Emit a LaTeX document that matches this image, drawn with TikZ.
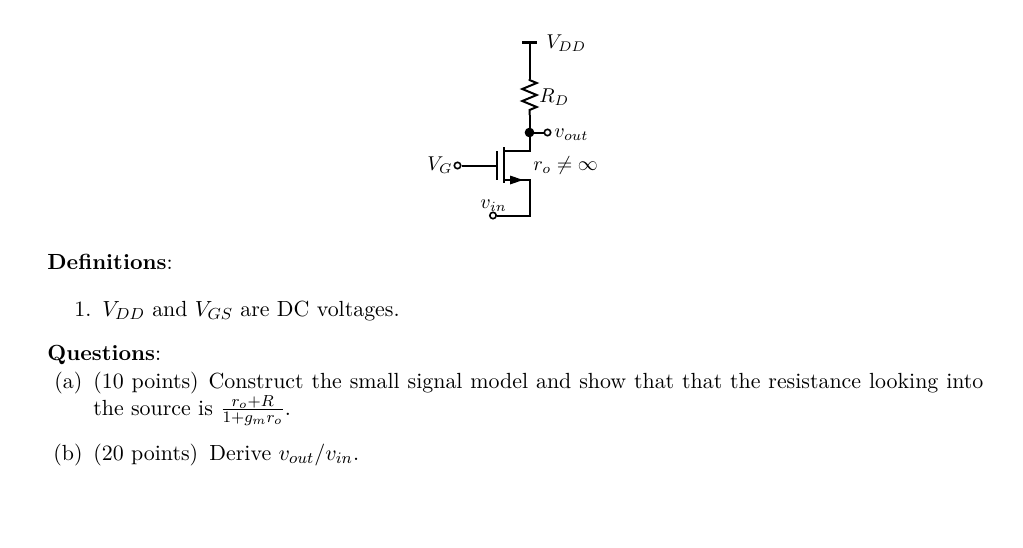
\documentclass[tikz,border=0pt]{standalone}
\usepackage{amsmath}
\usepackage{amssymb}
\usetikzlibrary{calc}
\usetikzlibrary{decorations.pathmorphing}
\newcommand{\widthline}{445pt}
\tikzset{
    wire/.style={draw, line width=1pt},
    term/.style={draw, circle, line width=0.8pt, fill=white, inner sep=0pt, minimum size=3.2pt},
    junction/.style={draw, circle, fill=black, inner sep=0pt, minimum size=4.4pt},
    tag/.style={inner sep=0pt, anchor=base west},
    body/.style={inner sep=0pt, anchor=base west, font=\fontsize{10.95}{13.6}\selectfont},
    point/.style={inner sep=0pt, minimum size=0pt},
    resistor/.style={wire, decorate, decoration={zigzag, amplitude=3.6pt, segment length=6pt, pre length=0.5pt, post length=0.5pt}}
}
\begin{document}
\begin{tikzpicture}[x=0.5pt, y=-0.5pt]
            \useasboundingbox (0,0) rectangle (1023,547);

            % circuit
            \path
                (529.5,42.5) node[point] (vdd) {}
                (529.5,79) node[point] (rd-top) {}
                (529.5,115) node[point] (rd-bottom) {}
                (529.5,132.5) node[junction] (drain) {}
                (547.5,132.5) node[term] (vout) {}
                (529.5,150.5) node[point] (drain-corner) {}
                (504,150.5) node[point] (drain-left) {}
                (504,147) node[point] (channel-top) {}
                (504,183) node[point] (channel-bottom) {}
                (497,151) node[point] (gate-top) {}
                (497,180) node[point] (gate-bottom) {}
                (497,165.5) node[point] (gate-mid) {}
                (457.5,165.5) node[term] (vg) {}
                (504,180) node[point] (source-left) {}
                (523,180) node[point] (source-tip) {}
                (529.5,180) node[point] (source-corner) {}
                (529.5,215.5) node[point] (source-bottom) {}
                (493,215.5) node[term] (vin) {};

            \draw[wire, line width=1.8pt] (522,42.5) -- (537,42.5);
            \draw[wire] (vdd.center) -- (rd-top.center);
            \draw[resistor] (rd-top.center) -- (rd-bottom.center);
            \draw[wire] (rd-bottom.center) -- (drain.center) -- (drain-corner.center) -- (drain-left.center);
            \draw[wire] (drain) -- (vout);
            \draw[wire] (channel-top.center) -- (channel-bottom.center);
            \draw[wire] (gate-top.center) -- (gate-bottom.center);
            \draw[wire] (vg) -- (gate-mid.center);
            \draw[wire] (source-left.center) -- (source-corner.center) -- (source-bottom.center) -- (vin);
            \fill (source-tip.center) -- ++(-13,-4.5) -- ++(0,9) -- cycle;

            % circuit labels
            \path
                (546,48) node[tag] (vdd-label) {$V_{DD}$}
                (539,102) node[tag] (rd-label) {$R_D$}
                (554,137) node[tag] (vout-label) {$v_{out}$}
                (427,170) node[tag] (vg-label) {$V_G$}
                (533,170) node[tag] (ro-label) {$r_o \neq \infty$}
                (480,208) node[tag] (vin-label) {$v_{in}$};

            % text
            \path
                (47,269) node[body] (definitions) {\textbf{Definitions}:}
                (74,316) node[body] (item-one) {1.\enspace $V_{DD}$ and $V_{GS}$ are DC voltages.}
                (47,360) node[body] (questions) {\textbf{Questions}:}
                (54,388) node[body] (item-a) {(a)}
                (93,388) node[body] (item-a-first) {\makebox[\widthline][s]{(10 points)\hspace{1pt} Construct the small signal model and show that that the resistance looking into}}
                (93,415) node[body] (item-a-second) {the source is $\frac{r_o+R}{1+g_m r_o}$.}
                (53,460) node[body] (item-b) {(b)}
                (93,460) node[body] (item-b-first) {(20 points)\hspace{2pt} Derive $v_{out}/v_{in}$.};
        \end{tikzpicture}
\end{document}
